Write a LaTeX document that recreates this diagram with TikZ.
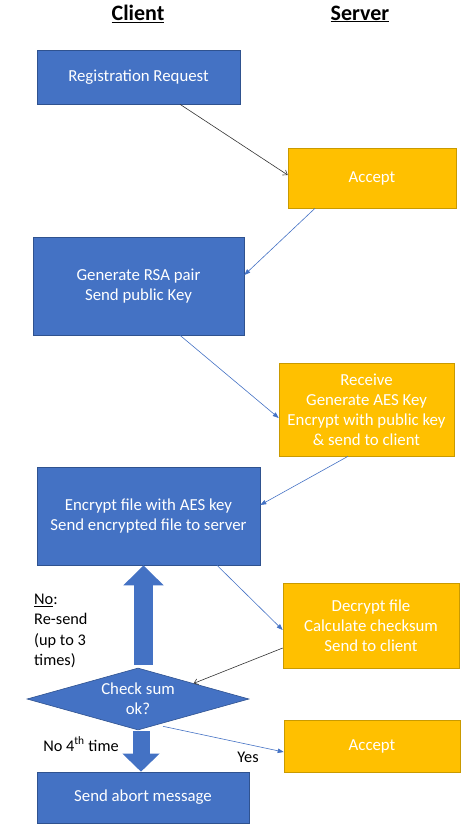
\documentclass[tikz,border=0pt]{standalone}
\usepackage{fontspec}
\setmainfont{Carlito}
\usetikzlibrary{shapes.geometric,arrows.meta}
\definecolor{boxblue}{HTML}{4472C4}
\definecolor{boxblueline}{HTML}{2F528F}
\definecolor{boxgold}{HTML}{FFC000}
\definecolor{boxgoldline}{HTML}{C99A00}

\begin{document}
\begin{tikzpicture}[x=1pt,y=-1pt]
  	\tikzstyle{client}=[rectangle, fill=boxblue, draw=boxblueline, line width=0.6pt, text=white, align=center, inner sep=1pt, font=\fontsize{16.8}{20}\selectfont]
  	\tikzstyle{server}=[client, fill=boxgold, draw=boxgoldline]
  	\tikzstyle{title}=[font=\fontsize{22}{26}\selectfont\bfseries]
  	\tikzstyle{note}=[align=left, inner sep=0pt, font=\fontsize{16.3}{20.2}\selectfont]
  	\tikzstyle{connect}=[-{Straight Barb[length=4pt,width=6pt]}, line width=0.6pt, black!80]
  	\tikzstyle{bconnect}=[-{Triangle[length=6pt,width=4.5pt]}, line width=0.6pt, boxblue]
  	\tikzstyle{block}=[line width=19pt, draw=boxblue, -{Triangle[width=39pt,length=20pt]}]
  	\useasboundingbox (0,0) rectangle (473,829);
  	% column titles
  	\node[title] (client) at (138,14) {\underline{Client}};
  	\node[title] (server) at (360,14) {\underline{Server}};
  	% client side
  	\node[client] (reg) [minimum width=203, minimum height=54] at (138.5,77) {Registration Request};
  	\node[client] (rsa) [minimum width=211, minimum height=98] at (138.5,286) {Generate RSA pair\\Send public Key};
  	\node[client] (enc) [minimum width=223, minimum height=98] at (148.5,516) {Encrypt file with AES key\\Send encrypted file to server};
  	\node[client, diamond, aspect=3.6, inner sep=0pt] (chk) [minimum width=222, minimum height=62] at (138,699) {Check sum\\ok?};
  	\node[client] (abort) [minimum width=212, minimum height=51] at (143,797.5) {Send abort message};
  	% server side
  	\node[server] (acc1) [minimum width=168, minimum height=60] at (372,178) {Accept};
  	\node[server] (recv) [minimum width=175, minimum height=93] at (366.5,409.5) {Receive\\Generate AES Key\\Encrypt with public key\\\& send to client};
  	\node[server] (dec) [minimum width=176, minimum height=85] at (371,625.5) {Decrypt file\\Calculate checksum\\Send to client};
  	\node[server] (acc2) [minimum width=176, minimum height=52] at (372,746) {Accept};
  	% labels
  	\node[note] (resend) [anchor=north west] at (34,594) {\underline{No}:\\Re-send\\(up to 3\\times)};
  	\node[note] (fourth) at (81,744) {No 4\textsuperscript{th} time};
  	\node[note] (yes) at (248,757) {Yes};
  	
  	\coordinate (up) at ([shift={(5.5,-3)}]chk.north);
  	\coordinate (dn) at ([shift={(3,1)}]chk.south);
  	
  	\path ([shift={(41.5,0)}]reg.south) edge [connect] ([shift={(0,-3)}]acc1.west)
  	([shift={(-57,0)}]acc1.south) edge [bconnect] ([shift={(0,-11)}]rsa.east)
  	([shift={(41.5,0)}]rsa.south) edge [bconnect] ([shift={(0,8.5)}]recv.west)
  	([shift={(-18.5,0)}]recv.south) edge [bconnect] ([shift={(0,-11)}]enc.east)
  	([shift={(68.5,0)}]enc.south) edge [bconnect] ([shift={(0,4.5)}]dec.west)
  	([shift={(0,22.5)}]dec.west) edge [connect] (chk.north east)
  	([shift={(25,-4)}]chk.south) edge [bconnect] ([shift={(0,6)}]acc2.west)
  	(up) edge [block] (up |- enc.south)
  	(dn) edge [block, line width=17pt, -{Triangle[width=36pt,length=18pt]}] (dn |- abort.north);
\end{tikzpicture}
\end{document}
